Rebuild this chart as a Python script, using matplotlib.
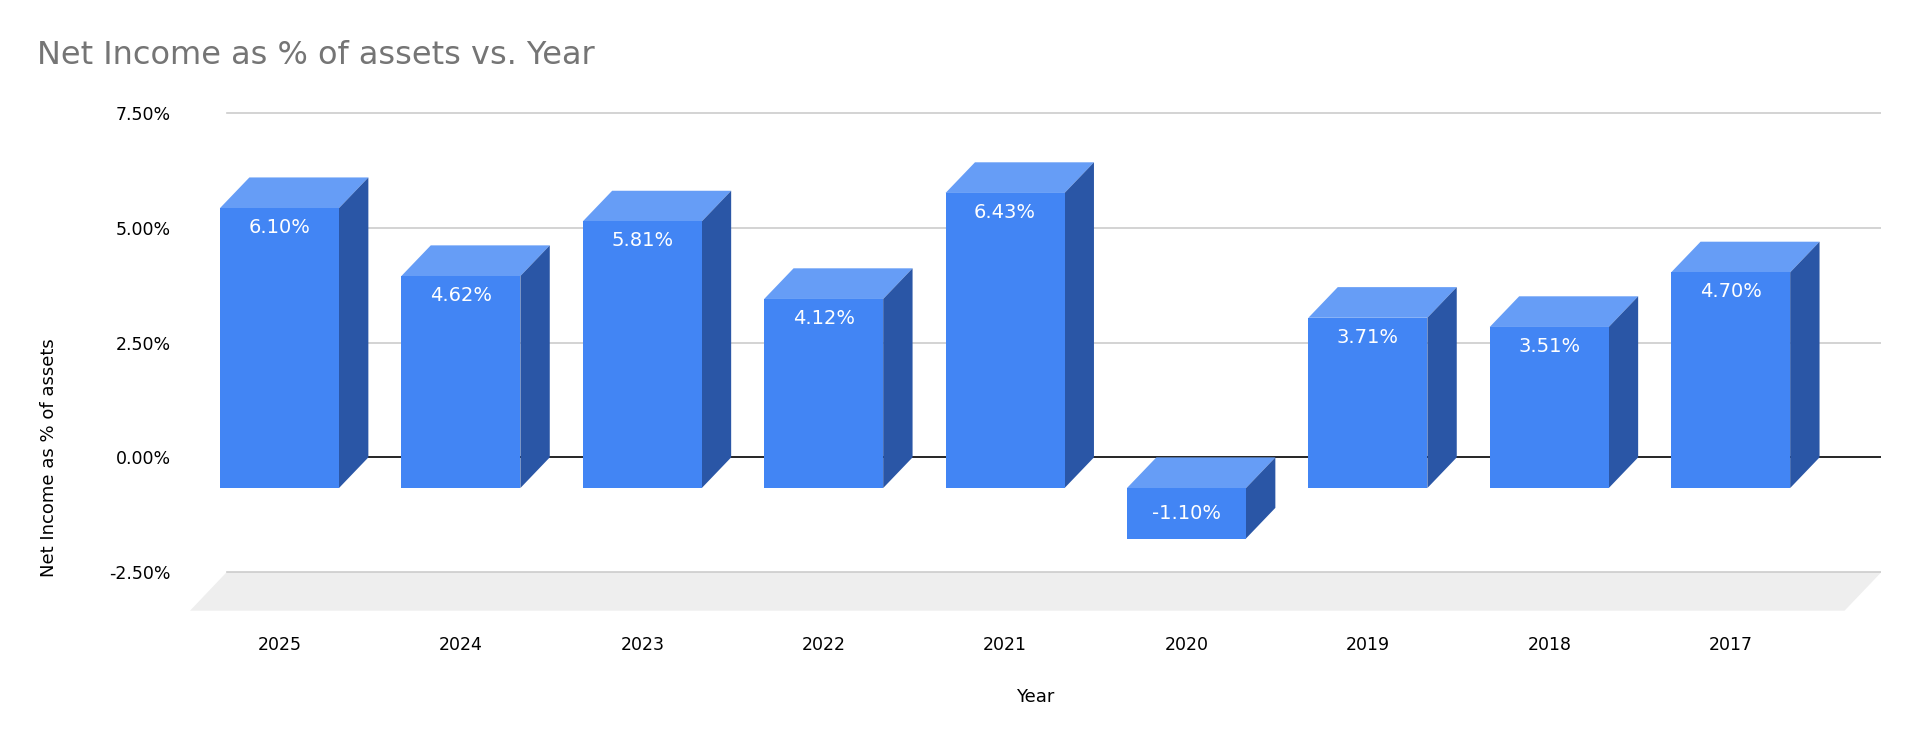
import matplotlib
matplotlib.use("Agg")
import matplotlib.pyplot as plt
from matplotlib.patches import Polygon

years = ["2025", "2024", "2023", "2022", "2021", "2020", "2019", "2018", "2017"]
values = [6.10, 4.62, 5.81, 4.12, 6.43, -1.10, 3.71, 3.51, 4.70]
yticks = [-2.5, 0, 2.5, 5.0, 7.5]
ytick_labels = ["-2.50%", "0.00%", "2.50%", "5.00%", "7.50%"]

W, H = 1912, 742
fig = plt.figure(figsize=(W/100, H/100), dpi=100)
ax = fig.add_axes([0.0994, 0.177, 0.984-0.0994, 0.866-0.177])
ax.set_xlim(-0.655, 8.669)
ax.set_ylim(-3.34, 7.8)
for s in ax.spines.values():
    s.set_visible(False)

DX, DY, HW = 0.162, 0.668, 0.328
FRONT, TOP, SIDE = "#4285F4", "#669DF6", "#2A56A6"

# floor
ax.add_patch(Polygon([(-0.453, -2.5), (8.669, -2.5), (8.466, -3.34), (-0.655, -3.34)],
                     closed=True, fc="#EEEEEE", ec="none", zorder=0))
for t in yticks:
    ax.plot([-0.453, 8.669], [t, t], color="black" if t == 0 else "#CCCCCC",
            lw=1.2, zorder=1)

for i, v in enumerate(values):
    cx = i - DX
    l, r = cx - HW, cx + HW
    y0, y1 = min(v, 0) - DY, max(v, 0) - DY
    top = y1 + DY
    ax.add_patch(Polygon([(l, y1), (r, y1), (r+DX, top), (l+DX, top)], fc=TOP, ec="none", zorder=3))
    ax.add_patch(Polygon([(r, y0), (r+DX, y0+DY), (r+DX, top), (r, y1)], fc=SIDE, ec="none", zorder=3))
    ax.add_patch(Polygon([(l, y0), (r, y0), (r, y1), (l, y1)], fc=FRONT, ec="none", zorder=4))
    ty = (y0 + y1) / 2 if v < 0 else y1 - 0.42
    ax.text(cx, ty, f"{v:.2f}%", color="white", ha="center", va="center", fontsize=14, zorder=5)

ax.set_yticks(yticks)
ax.set_yticklabels(ytick_labels, fontsize=12.5)
ax.set_xticks([i - DX for i in range(len(years))])
ax.set_xticklabels(years, fontsize=12.5)
ax.tick_params(axis="y", length=0, pad=14)
ax.tick_params(axis="x", length=0, pad=18)

fig.text(0.057*0.35, 0.5, "", fontsize=1)
fig.text(40/1560, 1-373/605 + 0.0, "Net Income as % of assets", rotation=90,
         ha="center", va="center", fontsize=13)
fig.text(845/1560, 1-568/605, "Year", ha="center", va="center", fontsize=13)
fig.text(30/1560, 1-45/605, "Net Income as % of assets vs. Year", ha="left", va="center",
         fontsize=23, color="#757575")
fig.savefig("out.png", dpi=100)
